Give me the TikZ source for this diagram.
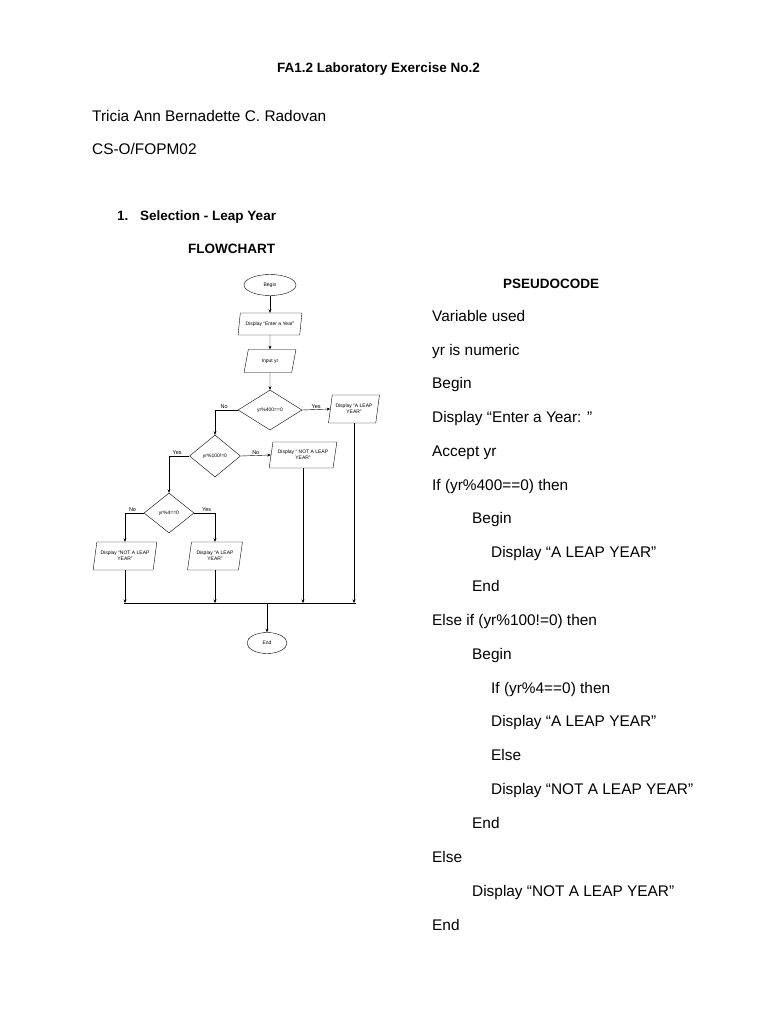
\documentclass[tikz,border=0pt]{standalone}
\usepackage{fontspec}
\setmainfont{Liberation Sans}
\usetikzlibrary{shapes.geometric,arrows.meta}
\begin{document}
\begin{tikzpicture}[x=1pt,y=-1pt,
  txt/.style={anchor=base west,inner sep=0,yshift=-5.5pt,font=\fontsize{15.4}{18}\selectfont},
  hd/.style={anchor=base west,inner sep=0,yshift=-5pt,font=\fontsize{13.5}{16}\selectfont\bfseries},
  term/.style={draw,ellipse,minimum width=52,minimum height=21,inner sep=0,font=\fontsize{5}{6}\selectfont},
  io/.style={draw,trapezium,trapezium left angle=74,trapezium right angle=106,trapezium stretches=true,inner sep=1,align=center,font=\fontsize{5}{6}\selectfont},
  dec/.style={draw,diamond,inner sep=0,font=\fontsize{5}{6}\selectfont},
  lab/.style={font=\fontsize{5.5}{6}\selectfont,inner sep=1},
  ar/.style={-{Stealth[length=3.5,width=3]},line width=0.4},
  ln/.style={line width=0.4}]
\useasboundingbox (0,0) rectangle (768,1024);
\node[hd] (title) at (277,68) {FA1.2 Laboratory Exercise No.2};
\node[txt] (name) at (92,116) {Tricia Ann Bernadette C. Radovan};
\node[txt] (sec) at (92,149) {CS-O/FOPM02};
\node[hd] (num) at (117,216) {1.};
\node[hd] (sel) at (140,216) {Selection - Leap Year};
\node[hd] (fc) at (188,248) {FLOWCHART};
\node[hd] (ps) at (503,283) {PSEUDOCODE};
\node[txt] (p1) at (432,316) {Variable used};
\node[txt] (p2) at (432,350) {yr is numeric};
\node[txt] (p3) at (432,383) {Begin};
\node[txt] (p4) at (432,417) {Display “Enter a Year: ”};
\node[txt] (p5) at (432,451) {Accept yr};
\node[txt] (p6) at (432,485) {If (yr\%400==0) then};
\node[txt] (p7) at (472,518) {Begin};
\node[txt] (p8) at (491,552) {Display “A LEAP YEAR”};
\node[txt] (p9) at (472,586) {End};
\node[txt] (p10) at (432,620) {Else if (yr\%100!=0) then};
\node[txt] (p11) at (472,654) {Begin};
\node[txt] (p12) at (491,688) {If (yr\%4==0) then};
\node[txt] (p13) at (491,721) {Display “A LEAP YEAR”};
\node[txt] (p14) at (491,755) {Else};
\node[txt] (p15) at (491,789) {Display “NOT A LEAP YEAR”};
\node[txt] (p16) at (472,823) {End};
\node[txt] (p17) at (432,857) {Else};
\node[txt] (p18) at (472,891) {Display “NOT A LEAP YEAR”};
\node[txt] (p19) at (432,925) {End};
% flowchart
\node[term] (begin) at (270,285) {Begin};
\node[io,minimum width=64,minimum height=22] (enter) at (270,324) {Display “Enter a Year”};
\node[io,minimum width=52,minimum height=23] (input) at (270,361) {Input yr};
\node[dec,minimum width=64,minimum height=40] (d400) at (270,410) {yr\%400==0};
\node[io,minimum width=51,minimum height=28] (ly1) at (354,409) {Display “A LEAP\\YEAR”};
\node[dec,minimum width=51,minimum height=42] (d100) at (215,456) {yr\%100!=0};
\node[io,minimum width=68,minimum height=26] (nl1) at (303,455) {Display “ NOT A LEAP\\YEAR”};
\node[dec,minimum width=50,minimum height=40] (d4) at (169,513) {yr\%4==0};
\node[io,minimum width=64,minimum height=28] (nl2) at (125,556) {Display “NOT A LEAP\\YEAR”};
\node[io,minimum width=55,minimum height=28] (ly2) at (215,556) {Display “A LEAP\\YEAR”};
\node[term,minimum width=40] (end) at (267,643) {End};
\coordinate (jl) at (124,603);
\coordinate (jr) at (356,603);
\coordinate (jm) at (267,603);
\draw[ar] (begin) -- (enter);
\draw[ar] (enter) -- (input);
\draw[ar] (input) -- (d400);
\draw[ar] (d400.west) -| node[lab,pos=0.3,above]{No} (d100.north);
\draw[ar] (d400.east) -- node[lab,above]{Yes} (ly1.west);
\draw[ar] (d100.east) -- node[lab,above]{No} (nl1.west);
\draw[ar] (d100.west) -| node[lab,pos=0.3,above]{Yes} (d4.north);
\draw[ar] (d4.west) -| node[lab,pos=0.3,above]{No} (nl2.north);
\draw[ar] (d4.east) -| node[lab,pos=0.3,above]{Yes} (ly2.north);
\draw[ar] (nl2.south) -- (nl2.south |- jl);
\draw[ar] (ly2.south) -- (ly2.south |- jl);
\draw[ar] (nl1.south) -- (nl1.south |- jl);
\draw[ar] (ly1.south) -- (ly1.south |- jl);
\draw[ln] (jl) -- (jr);
\draw[ar] (jm) -- (end);
\end{tikzpicture}
\end{document}
